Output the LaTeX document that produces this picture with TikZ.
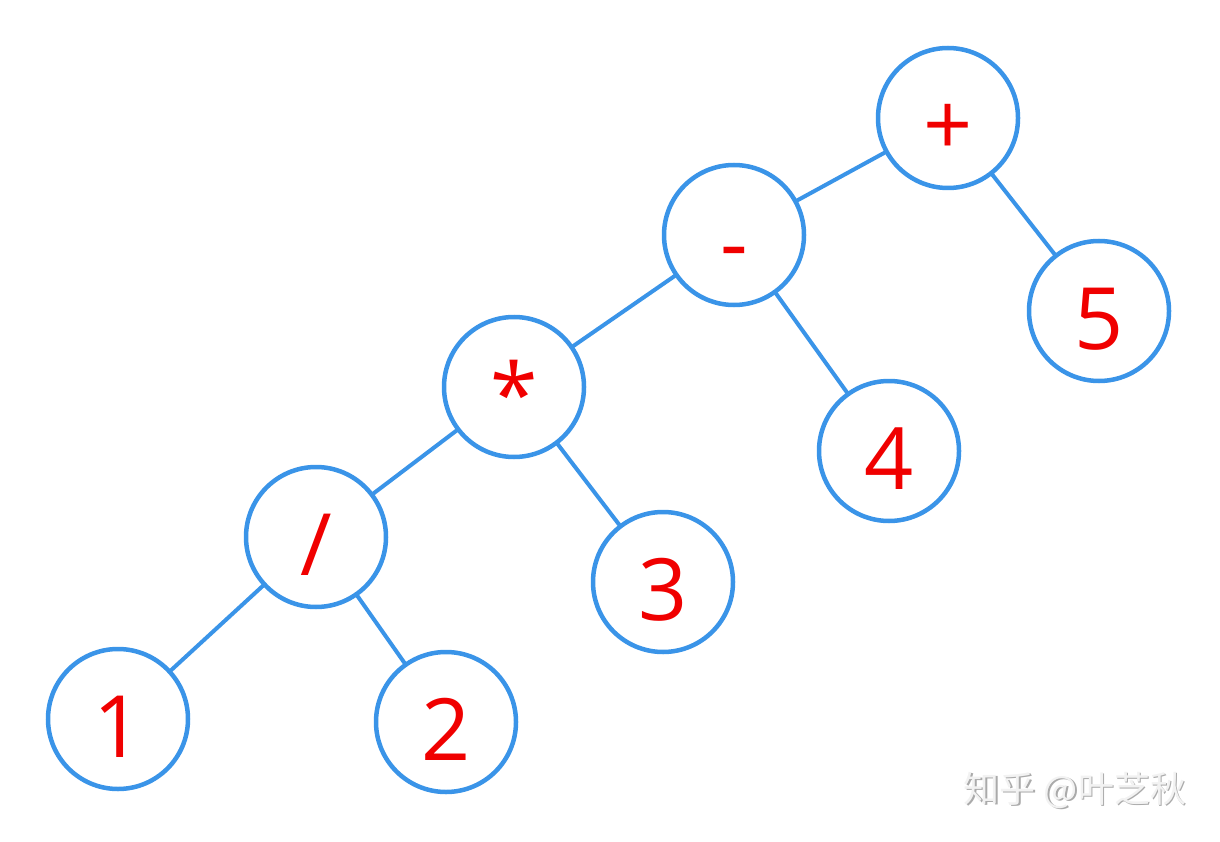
\documentclass[tikz,border=0pt]{standalone}
\usepackage{fontspec}
\setmainfont{Open Sans}
\newfontfamily\cjk{Noto Sans CJK SC}
\definecolor{nodeblue}{RGB}{58,148,232}
\definecolor{nodered}{RGB}{240,0,0}
\definecolor{wmgray}{RGB}{242,242,242}
\definecolor{wmshadow}{RGB}{170,170,170}
\begin{document}
\begin{tikzpicture}[x=1pt,y=-1pt,
  tnode/.style={circle, draw=nodeblue, line width=4.5pt, fill=white,
    minimum size=140pt, inner sep=0pt, outer sep=0pt,
    text=nodered, font=\fontsize{86}{90}\selectfont,
    text height=76pt, text depth=0pt},
  edge/.style={draw=nodeblue, line width=4pt},
  wmtext/.style={font=\cjk\fontsize{36}{40}\selectfont}]
\useasboundingbox (0,0) rectangle (1220,842);
\node[tnode] (plus)  at (948,118) {+};
\node[tnode] (minus) at (734,235) {-};
\node[tnode] (times) at (514,387) {*};
\node[tnode] (div)   at (316,537) {/};
\node[tnode] (one)   at (118,719) {1};
\node[tnode] (two)   at (446,722) {2};
\node[tnode] (three) at (663,582) {3};
\node[tnode] (four)  at (889,451) {4};
\node[tnode] (five)  at (1099,311) {5};
\draw[edge] (plus) -- (minus);
\draw[edge] (plus) -- (five);
\draw[edge] (minus) -- (times);
\draw[edge] (minus) -- (four);
\draw[edge] (times) -- (div);
\draw[edge] (times) -- (three);
\draw[edge] (div) -- (one);
\draw[edge] (div) -- (two);
\node[wmtext, text=wmshadow] (wmsh) at (1076.5,791.5) {知乎 @叶芝秋};
\node[wmtext, text=wmgray] (wm) at (1075,790) {知乎 @叶芝秋};
\end{tikzpicture}
\end{document}
